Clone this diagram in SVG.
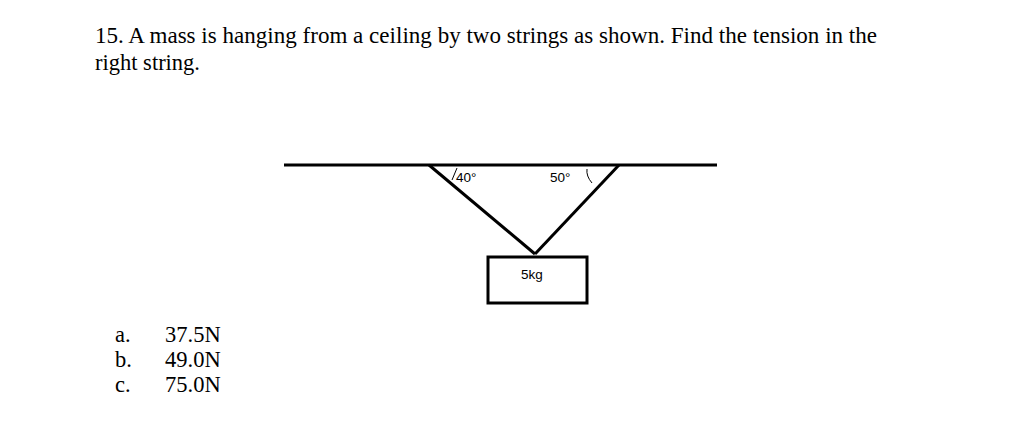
<svg xmlns="http://www.w3.org/2000/svg" width="1024" height="432" viewBox="0 0 1024 432">
<style>
.t{font-family:"Liberation Serif",serif;font-size:22.5px;fill:#000}
.s{font-family:"Liberation Sans",sans-serif;font-size:13.5px;fill:#000}
.l{stroke:#000;stroke-width:3;fill:none}
</style>
<rect width="1024" height="432" fill="#fff"/>
<text class="t" x="95" y="43" textLength="782" lengthAdjust="spacingAndGlyphs">15. A mass is hanging from a ceiling by two strings as shown.  Find the tension in the</text>
<text class="t" x="95" y="70">right string.</text>
<g id="ceiling"><line class="l" x1="284" y1="165" x2="717" y2="165"/></g>
<g id="connectors">
<line class="l" x1="429" y1="165" x2="535" y2="254"/>
<line class="l" x1="619" y1="165" x2="535" y2="254"/>
<path d="M457 168 L452 180 M587 169 Q586 176 592 183" stroke="#000" stroke-width="1" fill="none"/>
</g>
<text class="s" x="456" y="182">40°</text>
<text class="s" x="550" y="182">50°</text>
<g id="mass"><rect class="l" x="488" y="257" width="99" height="46"/>
<text class="s" x="521" y="279">5kg</text></g>
<text class="t" x="115" y="342">a.</text><text class="t" x="165" y="342">37.5N</text>
<text class="t" x="115" y="367">b.</text><text class="t" x="165" y="367">49.0N</text>
<text class="t" x="115" y="392">c.</text><text class="t" x="165" y="392">75.0N</text>
</svg>
